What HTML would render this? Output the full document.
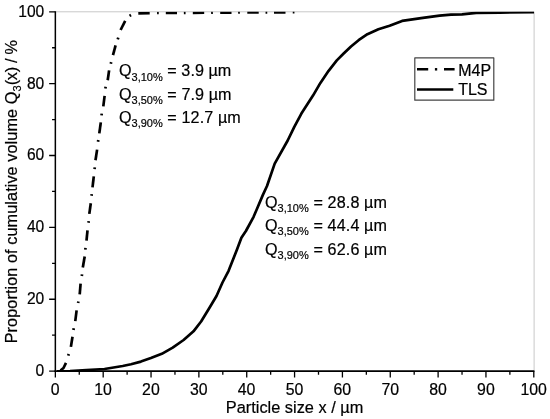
<!DOCTYPE html>
<html><head><meta charset="utf-8"><title>Particle size distribution</title>
<style>html,body{margin:0;padding:0;background:#fff}svg{display:block}</style></head>
<body>
<svg width="550" height="419" viewBox="0 0 550 419">
<rect width="550" height="419" fill="#fff"/>
<path d="M55.35 11.8 H534.0999999999999 V371.1" fill="none" stroke="#c8c8c8" stroke-width="1"/>
<defs><clipPath id="c"><rect x="55.35" y="11.8" width="478.94999999999993" height="360.3"/></clipPath></defs>
<g clip-path="url(#c)" fill="none" stroke="#000" stroke-width="2.7" stroke-linejoin="round">
<polyline points="57.0,371.3 70.0,371.0 86.4,370.2 104.5,369.0 122.7,366.0 131.0,364.2 140.9,361.6 150.9,358.1 161.8,353.8 172.7,347.6 183.6,340.0 193.5,331.3 201.1,321.5 209.8,307.3 216.5,296.0 222.5,282.5 228.6,270.8 236.8,250.0 241.4,237.7 245.9,231.0 253.6,216.8 262.9,194.9 267.0,186.0 274.7,163.6 287.7,140.5 294.3,126.8 301.4,113.6 313.0,95.6 320.4,82.9 328.6,70.8 336.8,60.4 343.4,53.8 351.0,46.5 358.6,40.2 367.4,34.2 378.4,29.3 389.6,25.8 402.1,20.9 422.9,17.9 439.6,15.6 451.0,14.6 462.0,14.3 476.2,12.8 500.0,12.6 534.0,12.2"/>
<polyline points="60.5,370.5 63.5,368.0 66.0,362.8"/>
<polyline points="70.9,346.9 72.5,336.8"/>
<polyline points="75.3,321.2 76.6,310.3"/>
<polyline points="79.7,294.4 80.6,283.6"/>
<polyline points="82.8,267.5 84.7,256.6"/>
<polyline points="86.5,240.7 87.5,230.3"/>
<polyline points="89.3,213.9 90.8,203.2"/>
<polyline points="92.5,187.3 93.8,176.3"/>
<polyline points="95.5,160.2 97.1,149.6"/>
<polyline points="99.3,133.4 100.8,122.4"/>
<polyline points="103.3,106.3 104.6,95.9"/>
<polyline points="107.7,80.3 109.1,70.4"/>
<polyline points="113.0,55.2 115.6,45.4"/>
<polyline points="120.6,30.0 125.2,20.9"/>
<polyline points="138.3,13.3 149.7,13.1"/>
<polyline points="165.8,12.9 177.0,12.8"/>
<polyline points="192.8,12.8 204.2,12.7"/>
<polyline points="220.2,12.6 231.5,12.6"/>
<polyline points="247.3,12.4 258.7,12.4"/>
<polyline points="274.0,12.3 285.5,12.3"/>
<path d="M68.25 355.61 L68.75 353.99"/>
<path d="M73.45 329.94 L73.75 328.26"/>
<path d="M78.09 303.08 L78.41 301.42"/>
<path d="M81.78 276.04 L82.02 274.36"/>
<path d="M85.30 249.54 L85.50 247.86"/>
<path d="M88.51 222.74 L88.69 221.06"/>
<path d="M91.56 195.75 L91.74 194.05"/>
<path d="M94.61 169.05 L94.79 167.35"/>
<path d="M98.03 141.74 L98.27 140.06"/>
<path d="M101.52 115.34 L101.78 113.66"/>
<path d="M105.33 88.43 L105.67 86.77"/>
<path d="M110.79 63.72 L111.21 62.08"/>
<path d="M117.74 39.31 L118.26 37.69"/>
<path d="M129.56 15.83 L131.04 14.97"/>
<path d="M157.05 13.01 L158.75 12.99"/>
<path d="M183.85 12.81 L185.55 12.79"/>
<path d="M211.15 12.66 L212.85 12.64"/>
<path d="M238.15 12.51 L239.85 12.49"/>
<path d="M265.55 12.40 L267.25 12.40"/>
<path d="M292.75 12.20 L294.45 12.20"/>
</g>
<g stroke="#000" fill="none">
<path d="M55.35 11.200000000000001 V371.90000000000003" stroke-width="1.5"/>
<path d="M54.550000000000004 371.1 H534.4" stroke-width="1.7"/>
<path d="M55.35 371.1 v6.4 M79.27 371.1 v3.6 M103.19 371.1 v6.4 M127.12 371.1 v3.6 M151.04 371.1 v6.4 M174.96 371.1 v3.6 M198.88 371.1 v6.4 M222.81 371.1 v3.6 M246.73 371.1 v6.4 M270.65 371.1 v3.6 M294.57 371.1 v6.4 M318.50 371.1 v3.6 M342.42 371.1 v6.4 M366.34 371.1 v3.6 M390.26 371.1 v6.4 M414.19 371.1 v3.6 M438.11 371.1 v6.4 M462.03 371.1 v3.6 M485.95 371.1 v6.4 M509.88 371.1 v3.6 M533.80 371.1 v6.4 M55.35 371.10 h-6.2 M55.35 335.17 h-3.3 M55.35 299.24 h-6.2 M55.35 263.31 h-3.3 M55.35 227.38 h-6.2 M55.35 191.45 h-3.3 M55.35 155.52 h-6.2 M55.35 119.59 h-3.3 M55.35 83.66 h-6.2 M55.35 47.73 h-3.3 M55.35 11.80 h-6.2" stroke-width="1.3"/>
</g>
<g font-family="'Liberation Sans', sans-serif" font-size="16" fill="#000" stroke="#000" stroke-width="0.2" stroke-linejoin="round">
<text x="55.2" y="395.0" font-size="15.85" text-anchor="middle">0</text>
<text x="103.1" y="395.0" font-size="15.85" text-anchor="middle">10</text>
<text x="150.9" y="395.0" font-size="15.85" text-anchor="middle">20</text>
<text x="198.8" y="395.0" font-size="15.85" text-anchor="middle">30</text>
<text x="246.6" y="395.0" font-size="15.85" text-anchor="middle">40</text>
<text x="294.5" y="395.0" font-size="15.85" text-anchor="middle">50</text>
<text x="342.3" y="395.0" font-size="15.85" text-anchor="middle">60</text>
<text x="390.2" y="395.0" font-size="15.85" text-anchor="middle">70</text>
<text x="438.0" y="395.0" font-size="15.85" text-anchor="middle">80</text>
<text x="485.9" y="395.0" font-size="15.85" text-anchor="middle">90</text>
<text x="533.7" y="395.0" font-size="15.85" text-anchor="middle">100</text>
<text x="44.3" y="375.95" font-size="15.6" text-anchor="end">0</text>
<text x="44.3" y="304.09" font-size="15.6" text-anchor="end">20</text>
<text x="44.3" y="232.23" font-size="15.6" text-anchor="end">40</text>
<text x="44.3" y="160.37" font-size="15.6" text-anchor="end">60</text>
<text x="44.3" y="88.51" font-size="15.6" text-anchor="end">80</text>
<text x="44.3" y="16.65" font-size="15.6" text-anchor="end">100</text>
<text x="225.8" y="413.3" font-size="16.35">Particle size x / µm</text>
<text transform="translate(16.6,343.3) rotate(-90)" font-size="16.3"><tspan letter-spacing="0.06">Proportion of cumulative volume Q</tspan><tspan font-size="11.2" dy="4.2">3</tspan><tspan dy="-4.2" letter-spacing="-0.27">(x) / %</tspan></text>
<text x="119" y="76.4" font-size="16.15">Q<tspan font-size="11" dy="4.1">3,10%</tspan><tspan font-size="16.15" dy="-4.1" letter-spacing="0.06"> = 3.9 µm</tspan></text>
<text x="119" y="99.9" font-size="16.15">Q<tspan font-size="11" dy="4.1">3,50%</tspan><tspan font-size="16.15" dy="-4.1" letter-spacing="0.08"> = 7.9 µm</tspan></text>
<text x="119" y="123.0" font-size="16.15">Q<tspan font-size="11" dy="4.1">3,90%</tspan><tspan font-size="16.15" dy="-4.1" letter-spacing="0.11"> = 12.7 µm</tspan></text>
<text x="265" y="207.9" font-size="16.15">Q<tspan font-size="11" dy="4.1">3,10%</tspan><tspan font-size="16.15" dy="-4.1" letter-spacing="0.13"> = 28.8 µm</tspan></text>
<text x="265" y="231.3" font-size="16.15">Q<tspan font-size="11" dy="4.1">3,50%</tspan><tspan font-size="16.15" dy="-4.1" letter-spacing="0.13"> = 44.4 µm</tspan></text>
<text x="265" y="255.0" font-size="16.15">Q<tspan font-size="11" dy="4.1">3,90%</tspan><tspan font-size="16.15" dy="-4.1" letter-spacing="0.13"> = 62.6 µm</tspan></text>
<rect x="414.8" y="57.9" width="79" height="42.3" fill="#fff" stroke="#444" stroke-width="1.2"/>
<text x="458.2" y="75.6">M4P</text>
<text x="458.2" y="94.9">TLS</text>
</g>
<g stroke="#000" stroke-width="2.5" fill="none">
<path d="M417 69.3 H428.2 M444 69.3 H454.6"/>
<path d="M434.9 69.3 h2.3"/>
<path d="M417 89.5 H453.3"/>
</g>
</svg>
</body></html>
